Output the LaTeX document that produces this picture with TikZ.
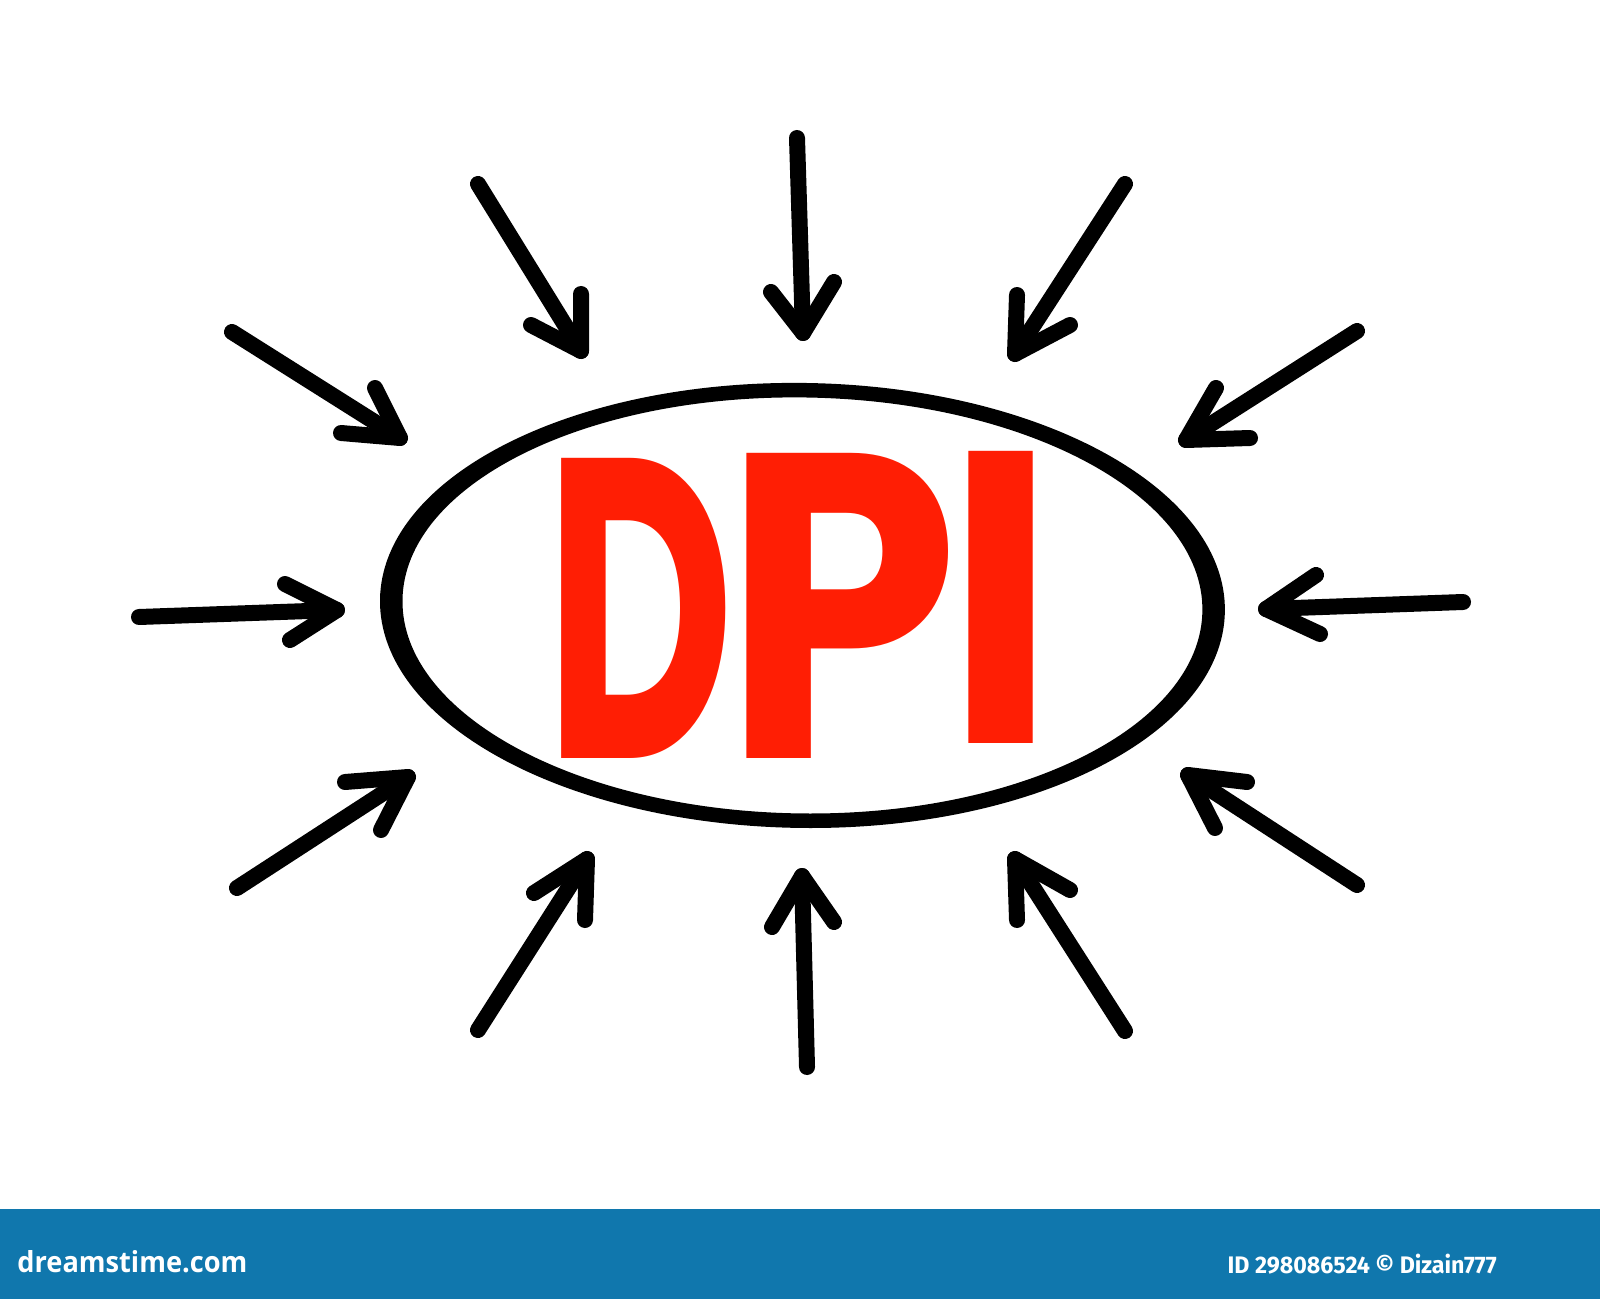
\documentclass[tikz,border=0pt]{standalone}
\usepackage{fontspec}
\setmainfont{Liberation Sans}
\newfontfamily\dpifont{Poppins}
\newfontfamily\logofont{Open Sans}
\newfontfamily\idfont{Fira Sans}
\definecolor{dpired}{RGB}{255,30,4}
\definecolor{barblue}{RGB}{16,119,173}
\begin{document}
\begin{tikzpicture}[x=0.5pt,y=-0.5pt,
  arr/.style={line width=8pt, line cap=round, line join=round, black}]
\useasboundingbox (0,0) rectangle (1600,1299);
\fill[white] (0,0) rectangle (1600,1299);
\fill[barblue] (0,1209) rectangle (1600,1299);
\coordinate (c) at (802.5,605.5);
\fill[black, even odd rule, rotate around={-0.8:(c)}]
  (c) ellipse [x radius=211.25pt, y radius=111.25pt]
  (c) ellipse [x radius=200pt, y radius=104pt];
\node[text=dpired, inner sep=0, anchor=base west] (dpi) at (545,758)
  {\dpifont\bfseries\resizebox{94.5pt}{150pt}{D}\kern-5.5pt\resizebox{117.5pt}{152.5pt}{P}\kern-6.5pt\raisebox{7pt}{\resizebox{55.5pt}{146pt}{I}}};
\foreach \n/\tx/\ty/\hx/\hy/\ax/\ay/\bx/\by in {
  1/478/184/581/351/581/294/531/325,
  2/232/332/400/438/375/388/341/433,
  3/797/138/803/333/771/292/834/282,
  4/1125/184/1015/354/1017/295/1070/325,
  5/1357/331/1186/440/1216/388/1250/438,
  6/1463/602/1266/609/1316/575/1320/634,
  7/1357/885/1188/775/1247/782/1215/828,
  8/1125/1031/1015/859/1017/920/1070/890,
  9/807/1067/802/876/772/927/834/922,
  10/478/1030/587/859/585/920/534/893,
  11/237/888/408/777/381/830/345/782,
  12/139/617/337/610/285/584/290/640}{
  \coordinate (t\n) at (\tx,\ty);
  \coordinate (h\n) at (\hx,\hy);
  \coordinate (a\n) at (\ax,\ay);
  \coordinate (b\n) at (\bx,\by);
  \draw[arr] (t\n) -- (h\n);
  \draw[arr] (a\n) -- (h\n) -- (b\n);
}
\node[anchor=base west, inner sep=0, text=white] (logo) at (17,1272)
  {\resizebox{115pt}{11pt}{\logofont\fontseries{sb}\selectfont dreamstime.com}};
\node[anchor=base east, inner sep=0, text=white] (id) at (1497,1273)
  {\resizebox{134.5pt}{9.7pt}{\idfont\bfseries ID 298086524 © Dizain777}};
\end{tikzpicture}
\end{document}
